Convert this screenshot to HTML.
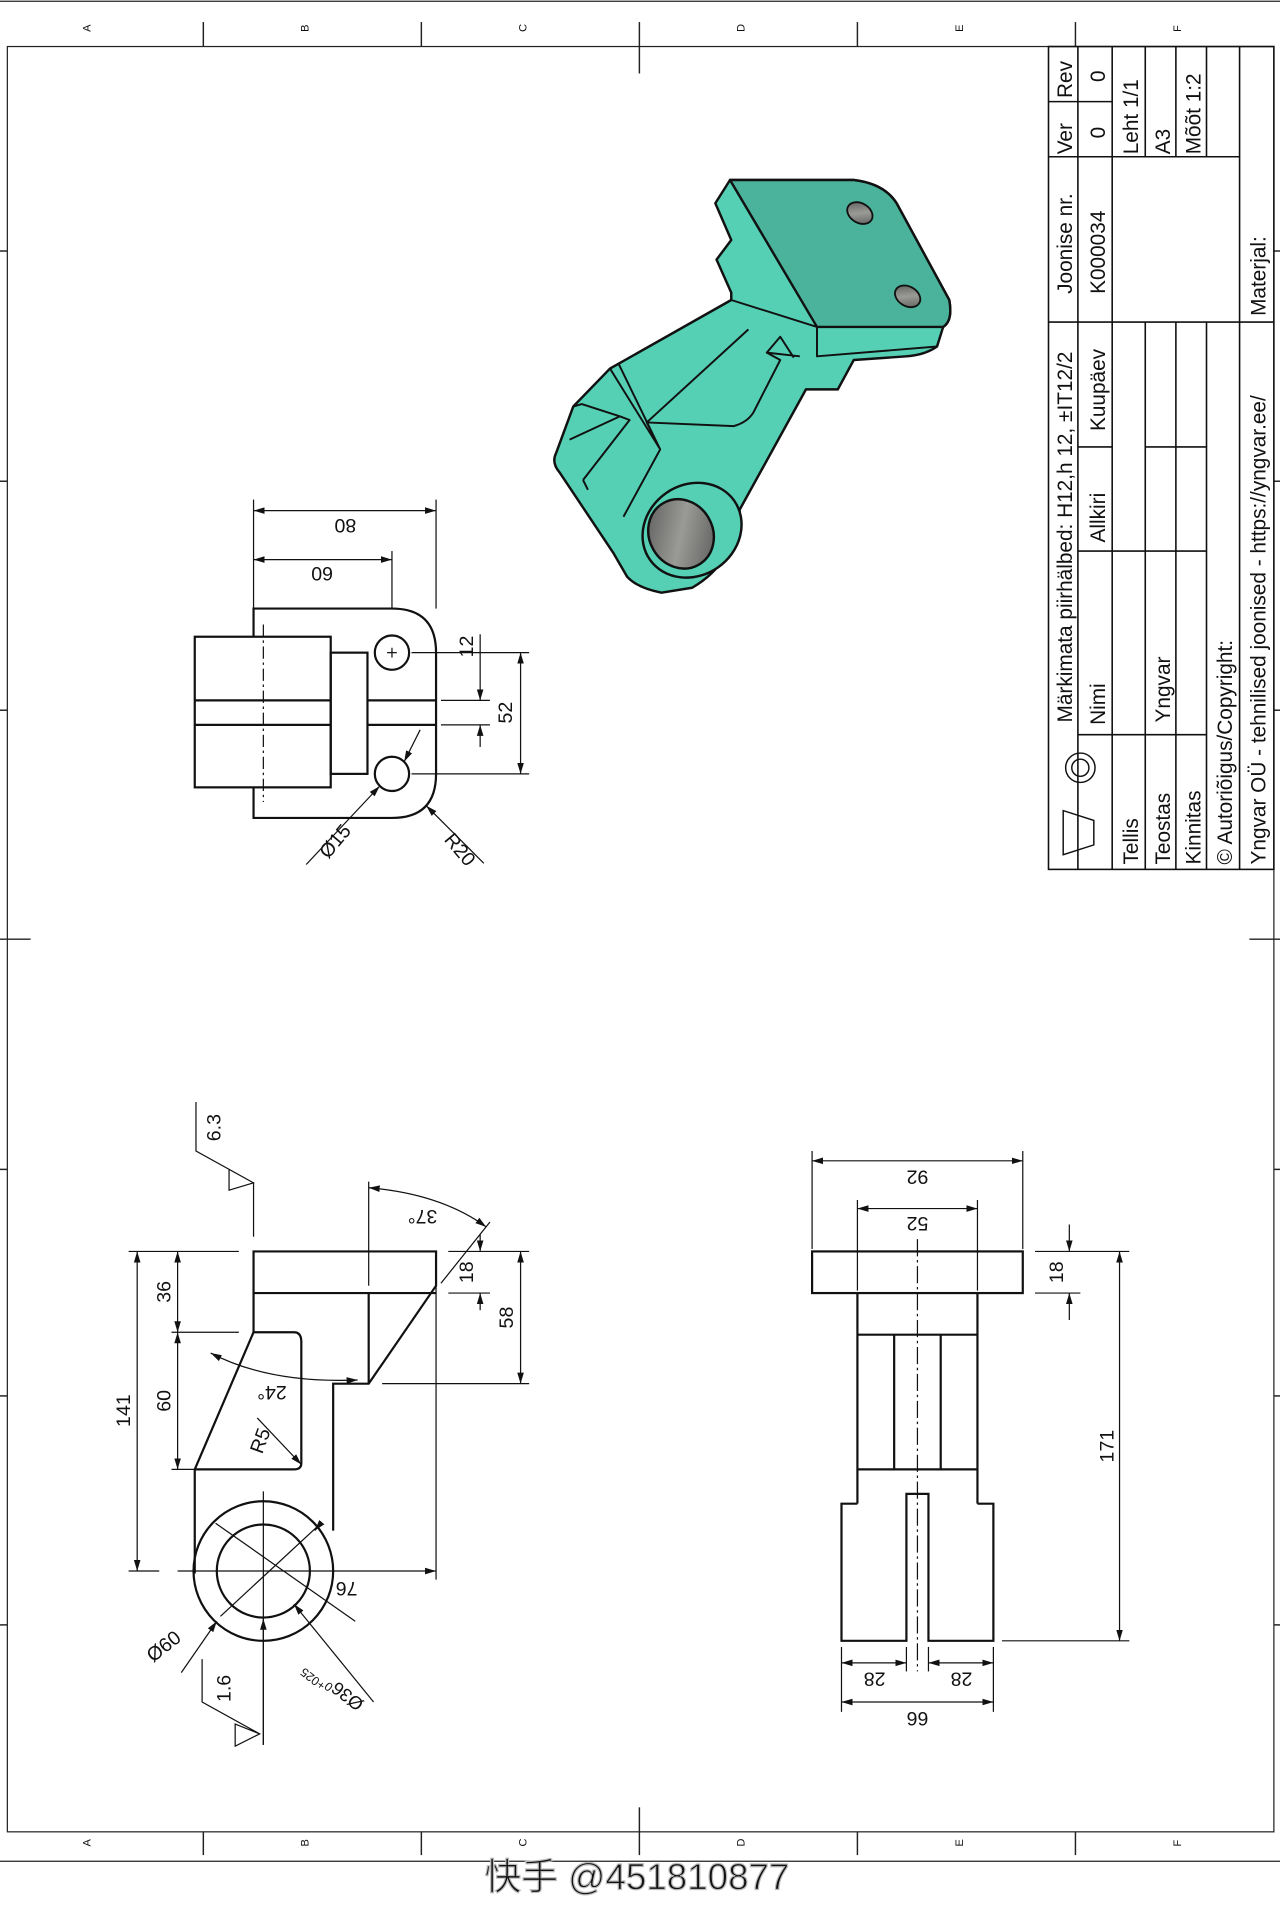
<!DOCTYPE html>
<html><head><meta charset="utf-8"><style>
html,body{margin:0;padding:0;background:#fff;}
svg{display:block;}
text{font-family:"Liberation Sans","Noto Sans CJK SC",sans-serif;fill:#111;}
</style></head><body>
<svg width="1280" height="1920" viewBox="0 0 1045 1568" preserveAspectRatio="none" xmlns="http://www.w3.org/2000/svg">
<defs>
<marker id="a" viewBox="0 0 10 10" refX="10" refY="5" markerWidth="9" markerHeight="9" orient="auto-start-reverse" markerUnits="userSpaceOnUse"><path d="M0,2 L10,5 L0,8z" fill="#111"/></marker>
<linearGradient id="g" x1="0" y1="0" x2="1" y2="1"><stop offset="0" stop-color="#555"/><stop offset="0.5" stop-color="#9a9a96"/><stop offset="1" stop-color="#555"/></linearGradient>
</defs>
<rect width="1045" height="1568" fill="#fff"/>
<!-- frame -->
<g stroke="#222" stroke-width="1" fill="none">
<line x1="0" y1="1" x2="1045" y2="1"/>
<rect x="6" y="38" width="1034" height="1458"/>
<line x1="0" y1="1520" x2="1045" y2="1520"/>
<g stroke-width="1.2">
<line x1="166" y1="18" x2="166" y2="38"/><line x1="344" y1="18" x2="344" y2="38"/><line x1="522" y1="18" x2="522" y2="38"/><line x1="700" y1="18" x2="700" y2="38"/><line x1="878" y1="18" x2="878" y2="38"/>
<line x1="166" y1="1496" x2="166" y2="1515"/><line x1="344" y1="1496" x2="344" y2="1515"/><line x1="522" y1="1476" x2="522" y2="1515"/><line x1="700" y1="1496" x2="700" y2="1515"/><line x1="878" y1="1496" x2="878" y2="1515"/>
<line x1="0" y1="205" x2="6" y2="205"/><line x1="0" y1="393" x2="6" y2="393"/><line x1="0" y1="580" x2="6" y2="580"/><line x1="0" y1="767" x2="25" y2="767"/><line x1="0" y1="955" x2="6" y2="955"/><line x1="0" y1="1140" x2="6" y2="1140"/><line x1="0" y1="1327" x2="6" y2="1327"/>
<line x1="1040" y1="205" x2="1045" y2="205"/><line x1="1040" y1="393" x2="1045" y2="393"/><line x1="1040" y1="580" x2="1045" y2="580"/><line x1="1020" y1="767" x2="1045" y2="767"/><line x1="1040" y1="955" x2="1045" y2="955"/><line x1="1040" y1="1140" x2="1045" y2="1140"/><line x1="1040" y1="1327" x2="1045" y2="1327"/>
<line x1="522" y1="38" x2="522" y2="60"/>
</g></g>
<g font-size="9">
<text transform="translate(74,26) rotate(-90)">A</text><text transform="translate(252,26) rotate(-90)">B</text><text transform="translate(430,26) rotate(-90)">C</text><text transform="translate(608,26) rotate(-90)">D</text><text transform="translate(786,26) rotate(-90)">E</text><text transform="translate(964,26) rotate(-90)">F</text>
<text transform="translate(74,1508) rotate(-90)">A</text><text transform="translate(252,1508) rotate(-90)">B</text><text transform="translate(430,1508) rotate(-90)">C</text><text transform="translate(608,1508) rotate(-90)">D</text><text transform="translate(786,1508) rotate(-90)">E</text><text transform="translate(964,1508) rotate(-90)">F</text>
</g>
<!-- title block -->
<g stroke="#111" stroke-width="1.3" fill="none">
<rect x="856" y="38" width="184" height="672"/>
<line x1="880" y1="38" x2="880" y2="710"/>
<line x1="908" y1="38" x2="908" y2="710"/>
<line x1="935" y1="38" x2="935" y2="128"/><line x1="935" y1="263" x2="935" y2="710"/>
<line x1="960" y1="38" x2="960" y2="128"/><line x1="960" y1="263" x2="960" y2="710"/>
<line x1="985" y1="38" x2="985" y2="128"/><line x1="985" y1="263" x2="985" y2="710"/>
<line x1="1012" y1="38" x2="1012" y2="710"/>
<line x1="856" y1="263" x2="1040" y2="263"/>
<line x1="856" y1="128" x2="1012" y2="128"/>
<line x1="856" y1="83" x2="908" y2="83"/>
<line x1="880" y1="600" x2="985" y2="600"/>
<line x1="880" y1="450" x2="985" y2="450"/>
<line x1="880" y1="365" x2="908" y2="365"/><line x1="935" y1="365" x2="985" y2="365"/>
<path d="M868,662 L868,698 L893,690 L893,670 Z" stroke-width="1.2"/>
<circle cx="882" cy="627" r="12" stroke-width="1.2"/><circle cx="882" cy="627" r="7" stroke-width="1.2"/>
</g>
<g font-size="17">
<text transform="translate(875,590) rotate(-90)">Märkimata piirhälbed: H12,h 12, ±IT12/2</text>
<text transform="translate(875,240) rotate(-90)">Joonise nr.</text>
<text transform="translate(875,126) rotate(-90)">Ver</text>
<text transform="translate(875,80) rotate(-90)">Rev</text>
<text transform="translate(902,592) rotate(-90)">Nimi</text>
<text transform="translate(902,443) rotate(-90)">Allkiri</text>
<text transform="translate(902,352) rotate(-90)">Kuupäev</text>
<text transform="translate(902,240) rotate(-90)">K000034</text>
<text transform="translate(902,113) rotate(-90)">0</text>
<text transform="translate(902,67) rotate(-90)">0</text>
<text transform="translate(929,706) rotate(-90)">Tellis</text>
<text transform="translate(929,126) rotate(-90)">Leht  1/1</text>
<text transform="translate(955,706) rotate(-90)">Teostas</text>
<text transform="translate(955,590) rotate(-90)">Yngvar</text>
<text transform="translate(955,126) rotate(-90)">A3</text>
<text transform="translate(980,706) rotate(-90)">Kinnitas</text>
<text transform="translate(980,126) rotate(-90)">Mõõt  1:2</text>
<text transform="translate(1006,706) rotate(-90)">© Autoriõigus/Copyright:</text>
<text transform="translate(1033,706) rotate(-90)">Yngvar OÜ - tehnilised joonised - https://yngvar.ee/</text>
<text transform="translate(1033,258) rotate(-90)">Materjal:</text>
</g>
<!-- 3D part -->
<g stroke="#111" stroke-width="2" stroke-linejoin="round">
<path d="M596,147 L697,147 Q722,150 732,166 L775,245 Q778,262 770,267 L765,283 Q755,290 740,291 L697,294 L684,318 L658,318 L604,416 Q600,460 565,480 L540,484 Q520,480 512,471 L501,452 L457,386 Q450,378 454,370 L468,332 L498,301 L597,245 L597,239 L585,212 L597,196 L584,166 Z" fill="#55d0b5"/>
<path d="M596,147 L697,147 Q722,150 732,166 L775,245 Q778,262 770,267 L667,267 Z" fill="#4bb39b"/>
<path d="M667,267 L667,291 L765,283 M498,301 L539,367 M597,245 L667,267 M611,269 L528,345 L599,348 Q610,345 615,337 L637,294 L626,288 L653,291 M626,288 L637,275 L648,292 M498,301 L505,297 L539,367 L509,422 M468,332 L475,330 L506,340 L514,343 L476,392 M465,359 L506,340 M476,392 L480,400 M528,345 L539,367" fill="none" stroke-width="1.6"/>
<ellipse cx="565" cy="433" rx="42" ry="37" transform="rotate(-35 565 433)" fill="#55d0b5"/>
<ellipse cx="556" cy="436" rx="26" ry="29" transform="rotate(-30 556 436)" fill="url(#g)"/>
<ellipse cx="702" cy="174" rx="11" ry="8" transform="rotate(30 702 174)" fill="url(#g)" stroke-width="1.5"/>
<ellipse cx="741" cy="242" rx="11" ry="8" transform="rotate(30 741 242)" fill="url(#g)" stroke-width="1.5"/>
</g>
<!-- top view -->
<g stroke="#111" stroke-width="1.8" fill="none">
<path d="M207,520 L207,497 L320,497 Q356,497 356,533 L356,632 Q356,668 320,668 L207,668 L207,643"/>
<rect x="159" y="520" width="111" height="123"/>
<rect x="270" y="533" width="30" height="99"/>
<line x1="159" y1="572" x2="270" y2="572"/><line x1="159" y1="592" x2="270" y2="592"/>
<line x1="300" y1="572" x2="356" y2="572"/><line x1="300" y1="592" x2="356" y2="592"/>
<circle cx="320" cy="533" r="14"/><circle cx="320" cy="632" r="14"/>
</g>
<g stroke="#111" stroke-width="1" fill="none">
<line x1="215" y1="510" x2="215" y2="655" stroke-dasharray="10,3,2,3"/>
<line x1="316" y1="533" x2="324" y2="533"/><line x1="320" y1="529" x2="320" y2="537"/>
<line x1="207" y1="408" x2="207" y2="497"/><line x1="356" y1="408" x2="356" y2="497"/><line x1="320" y1="450" x2="320" y2="497"/>
<line x1="207" y1="417" x2="356" y2="417" marker-start="url(#a)" marker-end="url(#a)"/>
<line x1="207" y1="457" x2="320" y2="457" marker-start="url(#a)" marker-end="url(#a)"/>
<line x1="336" y1="533" x2="432" y2="533"/><line x1="360" y1="572" x2="400" y2="572"/><line x1="360" y1="592" x2="400" y2="592"/><line x1="336" y1="632" x2="432" y2="632"/>
<line x1="392" y1="518" x2="392" y2="572" marker-end="url(#a)"/><line x1="392" y1="610" x2="392" y2="592" marker-end="url(#a)"/>
<line x1="425" y1="533" x2="425" y2="632" marker-start="url(#a)" marker-end="url(#a)"/>
<line x1="250" y1="706" x2="310" y2="642" marker-end="url(#a)"/><line x1="343" y1="596" x2="330" y2="622" marker-end="url(#a)"/>
<line x1="395" y1="705" x2="348" y2="658" marker-end="url(#a)"/>
</g>
<g font-size="16">
<text transform="translate(282,424) rotate(180)" text-anchor="middle">80</text>
<text transform="translate(263,463) rotate(180)" text-anchor="middle">60</text>
<text transform="translate(386,528) rotate(-90)" text-anchor="middle">12</text>
<text transform="translate(418,582) rotate(-90)" text-anchor="middle">52</text>
<text transform="translate(268,702) rotate(-50)">Ø15</text>
<text transform="translate(362,686) rotate(50)">R20</text>
</g>
<!-- front view -->
<g stroke="#111" stroke-width="1.8" fill="none">
<path d="M207,1056 L207,1022 L356,1022 L356,1050 L301,1130 L272,1130 L272,1250"/>
<line x1="207" y1="1056" x2="356" y2="1056"/>
<line x1="301" y1="1056" x2="301" y2="1130"/>
<path d="M207,1056 L207,1088 L240,1088 Q246,1088 246,1096 L246,1195 Q246,1200 240,1200 L159,1200"/>
<path d="M207,1088 L159,1200 L159,1285"/>
<circle cx="215" cy="1283" r="57"/><circle cx="215" cy="1283" r="38"/>
</g>
<g stroke="#111" stroke-width="1" fill="none">
<line x1="215" y1="1218" x2="215" y2="1425"/>
<line x1="105" y1="1283" x2="130" y2="1283"/><line x1="145" y1="1283" x2="356" y2="1283" marker-end="url(#a)"/>
<line x1="356" y1="1050" x2="356" y2="1290"/>
<line x1="176" y1="1244" x2="290" y2="1324"/><line x1="180" y1="1320" x2="262" y2="1244"/>
<line x1="105" y1="1022" x2="195" y2="1022"/><line x1="140" y1="1088" x2="195" y2="1088"/><line x1="140" y1="1200" x2="159" y2="1200"/>
<line x1="112" y1="1022" x2="112" y2="1283" marker-start="url(#a)" marker-end="url(#a)"/>
<line x1="145" y1="1022" x2="145" y2="1088" marker-start="url(#a)" marker-end="url(#a)"/>
<line x1="145" y1="1088" x2="145" y2="1200" marker-start="url(#a)" marker-end="url(#a)"/>
<line x1="366" y1="1022" x2="432" y2="1022"/><line x1="366" y1="1056" x2="400" y2="1056"/><line x1="312" y1="1130" x2="432" y2="1130"/>
<line x1="392" y1="1008" x2="392" y2="1022" marker-end="url(#a)"/><line x1="392" y1="1070" x2="392" y2="1056" marker-end="url(#a)"/>
<line x1="425" y1="1022" x2="425" y2="1130" marker-start="url(#a)" marker-end="url(#a)"/>
<line x1="301" y1="965" x2="301" y2="1050"/><line x1="360" y1="1048" x2="400" y2="998"/>
<path d="M301,970 Q360,975 397,1002" marker-start="url(#a)" marker-end="url(#a)"/>
<path d="M172,1105 Q220,1130 292,1127" marker-start="url(#a)" marker-end="url(#a)"/>
<line x1="210" y1="1158" x2="246" y2="1196" marker-end="url(#a)"/>
<line x1="148" y1="1366" x2="177" y2="1324" marker-end="url(#a)"/>
<line x1="305" y1="1390" x2="240" y2="1310" marker-end="url(#a)"/>
<line x1="262" y1="1244" x2="257" y2="1250" marker-end="url(#a)"/>
<line x1="215" y1="1425" x2="215" y2="1322" marker-end="url(#a)"/>
<path d="M207,1010 L207,966 M160,900 L160,940 L207,966 M187,955 L207,966 L187,972 Z"/>
<path d="M165,1355 L165,1390 L212,1416 M192,1408 L212,1416 L192,1426 Z"/>
</g>
<g font-size="16">
<text transform="translate(106,1152) rotate(-90)" text-anchor="middle">141</text>
<text transform="translate(139,1055) rotate(-90)" text-anchor="middle">36</text>
<text transform="translate(139,1144) rotate(-90)" text-anchor="middle">60</text>
<text transform="translate(386,1039) rotate(-90)" text-anchor="middle">18</text>
<text transform="translate(419,1076) rotate(-90)" text-anchor="middle">58</text>
<text transform="translate(283,1292) rotate(180)" text-anchor="middle">76</text>
<text transform="translate(345,988) rotate(180)" text-anchor="middle">37°</text>
<text transform="translate(222,1132) rotate(180)" text-anchor="middle">24°</text>
<text transform="translate(214,1188) rotate(-70)">R5</text>
<text transform="translate(125,1358) rotate(-38)">Ø60</text>
<text transform="translate(298,1390) rotate(-142)" font-size="15">Ø36<tspan font-size="10" dy="-5">0</tspan><tspan font-size="10" dy="-3">+025</tspan></text>
<text transform="translate(180,932) rotate(-90)">6.3</text>
<text transform="translate(188,1390) rotate(-90)">1.6</text>
</g>
<!-- side view -->
<g stroke="#111" stroke-width="1.8" fill="none">
<rect x="663" y="1022" width="172" height="34"/>
<line x1="700" y1="1056" x2="700" y2="1228"/><line x1="798" y1="1056" x2="798" y2="1228"/>
<line x1="730" y1="1090" x2="730" y2="1200"/><line x1="768" y1="1090" x2="768" y2="1200"/>
<line x1="700" y1="1090" x2="798" y2="1090"/><line x1="700" y1="1200" x2="798" y2="1200"/>
<path d="M700,1228 L687,1228 L687,1340 L740,1340 L740,1220 L758,1220 L758,1340 L811,1340 L811,1228 L798,1228"/>
</g>
<g stroke="#111" stroke-width="1" fill="none">
<line x1="749" y1="1012" x2="749" y2="1365" stroke-dasharray="14,3,2,3"/>
<line x1="663" y1="940" x2="663" y2="1020"/><line x1="835" y1="940" x2="835" y2="1020"/>
<line x1="700" y1="980" x2="700" y2="1054"/><line x1="798" y1="980" x2="798" y2="1054"/>
<line x1="663" y1="948" x2="835" y2="948" marker-start="url(#a)" marker-end="url(#a)"/>
<line x1="700" y1="987" x2="798" y2="987" marker-start="url(#a)" marker-end="url(#a)"/>
<line x1="845" y1="1022" x2="922" y2="1022"/><line x1="845" y1="1056" x2="882" y2="1056"/><line x1="818" y1="1340" x2="922" y2="1340"/>
<line x1="873" y1="1000" x2="873" y2="1022" marker-end="url(#a)"/><line x1="873" y1="1078" x2="873" y2="1056" marker-end="url(#a)"/>
<line x1="914" y1="1022" x2="914" y2="1340" marker-start="url(#a)" marker-end="url(#a)"/>
<line x1="687" y1="1345" x2="687" y2="1398"/><line x1="811" y1="1345" x2="811" y2="1398"/><line x1="740" y1="1345" x2="740" y2="1365"/><line x1="758" y1="1345" x2="758" y2="1365"/>
<line x1="687" y1="1358" x2="740" y2="1358" marker-start="url(#a)" marker-end="url(#a)"/>
<line x1="758" y1="1358" x2="811" y2="1358" marker-start="url(#a)" marker-end="url(#a)"/>
<line x1="687" y1="1390" x2="811" y2="1390" marker-start="url(#a)" marker-end="url(#a)"/>
</g>
<g font-size="16">
<text transform="translate(749,956) rotate(180)" text-anchor="middle">92</text>
<text transform="translate(749,994) rotate(180)" text-anchor="middle">52</text>
<text transform="translate(868,1039) rotate(-90)" text-anchor="middle">18</text>
<text transform="translate(909,1181) rotate(-90)" text-anchor="middle">171</text>
<text transform="translate(714,1366) rotate(180)" text-anchor="middle">28</text>
<text transform="translate(785,1366) rotate(180)" text-anchor="middle">28</text>
<text transform="translate(749,1398) rotate(180)" text-anchor="middle">66</text>
</g>
<!-- watermark -->
<text x="520" y="1543" font-size="30" text-anchor="middle" fill="#fff" stroke="#bbb" stroke-width="1" font-family="'Liberation Sans','Noto Sans CJK SC',sans-serif">快手 @451810877</text>
</svg>
</body></html>
